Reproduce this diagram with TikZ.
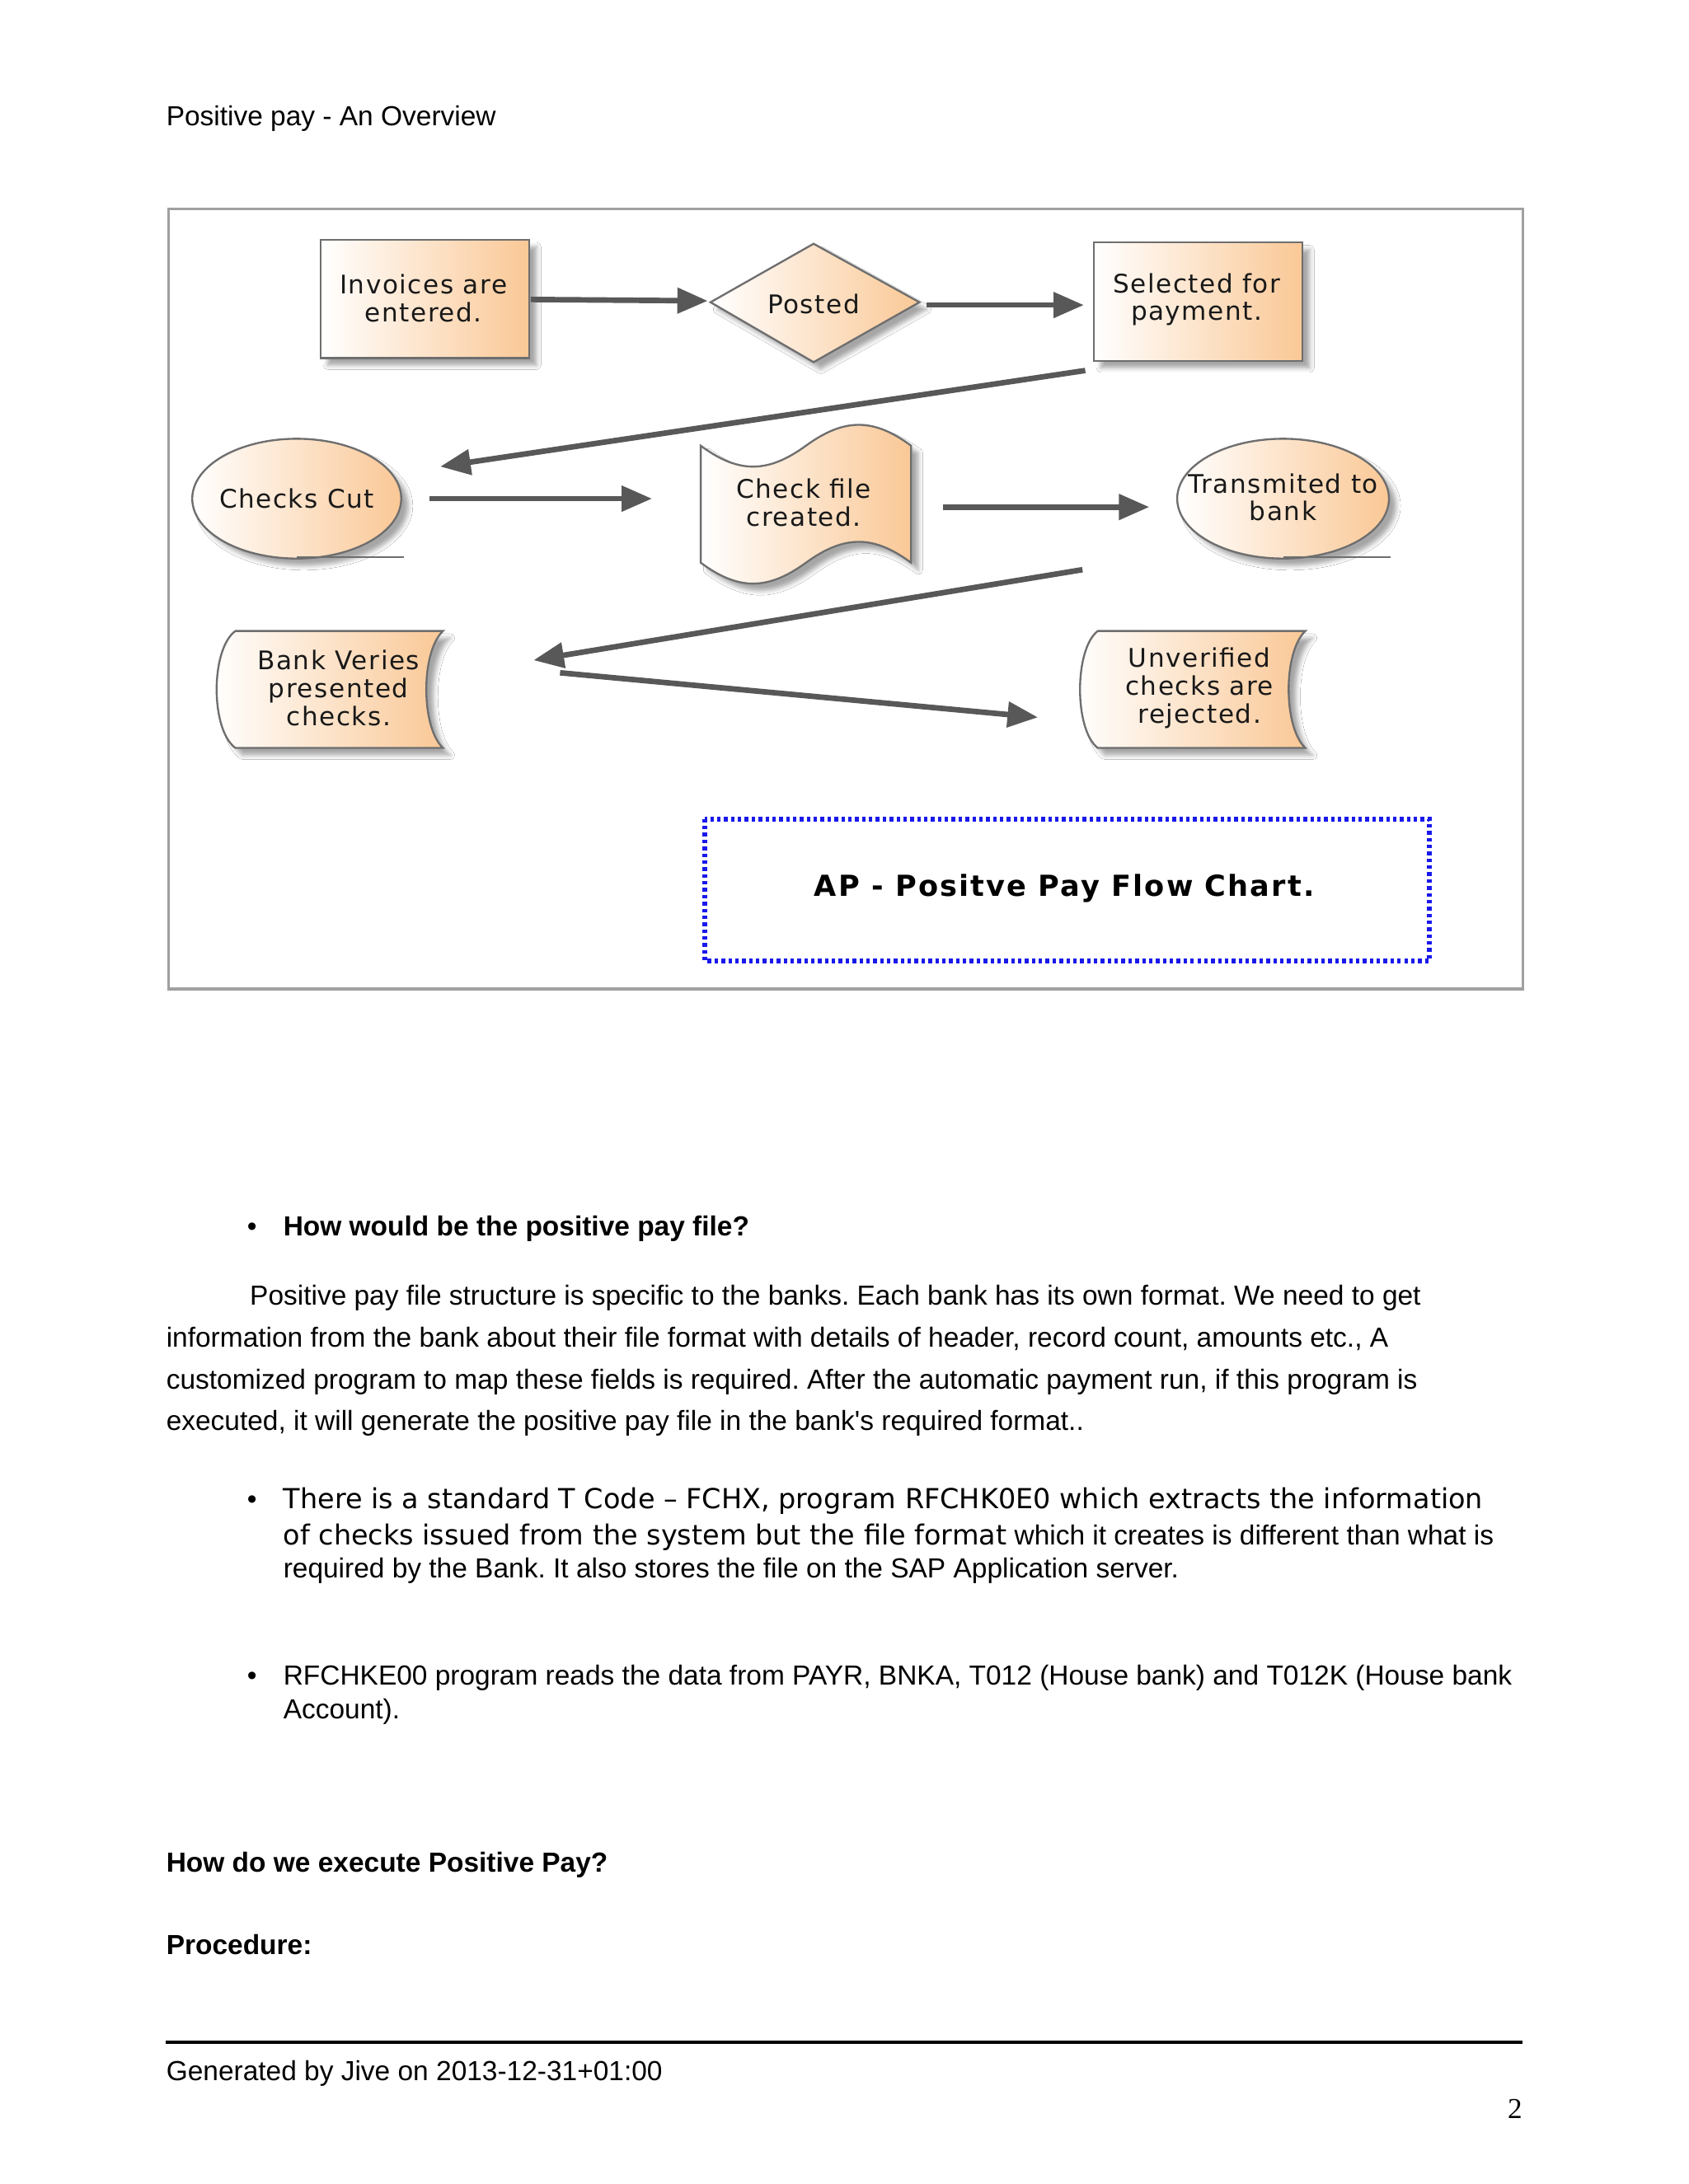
\documentclass[tikz,border=0pt]{standalone}
\usepackage{fontspec}
\setmainfont{Liberation Sans}
\newfontfamily\noligsans[Ligatures=ResetAll]{Liberation Sans}
\newfontfamily\dvfont{DejaVu Sans}
\newfontfamily\dvwide[LetterSpace=5]{DejaVu Sans}
\newfontfamily\dvtitle[LetterSpace=6]{DejaVu Sans}
\newfontfamily\pgserif{Liberation Serif}
\usetikzlibrary{arrows.meta,shadows.blur}
\frenchspacing
\definecolor{shapeor}{RGB}{250,200,150}
\definecolor{edgegray}{RGB}{110,110,110}
\definecolor{arrowgray}{RGB}{88,88,88}
\definecolor{framegray}{RGB}{160,160,160}
\definecolor{dotblue}{RGB}{25,25,235}
\tikzset{
  shapebox/.style={draw=edgegray, line width=0.7pt, left color=white, right color=shapeor,
    blur shadow={shadow xshift=2.6pt, shadow yshift=-2.6pt, shadow blur radius=1.6pt, shadow opacity=35}},
  tapetail/.style={draw=edgegray, line width=0.6pt},
  flowarrow/.style={draw=arrowgray, line width=2pt, -{Triangle[length=11pt,width=9pt]}},
  chartlabel/.style={font=\dvwide\fontsize{9.3}{10.1}\selectfont, text=black!90, align=center, inner sep=0pt},
  bodyline/.style={anchor=base west, inner sep=0pt, font=\fontsize{10}{12}\selectfont},
  boldline/.style={anchor=base west, inner sep=0pt, font=\bfseries\fontsize{10}{12}\selectfont},
  dvline/.style={anchor=base west, inner sep=0pt, font=\dvfont\fontsize{10}{12}\selectfont},
}
\begin{document}
\begin{tikzpicture}[x=0.505pt, y=-0.505pt]
\useasboundingbox (0,0) rectangle (1212,1568);
\fill[white] (0,0) rectangle (1212,1568);

% header
\node[bodyline] (hdr) at (119,90) {Positive pay - An Overview};

% chart frame
\draw[framegray, line width=1pt, fill=white] (121,150) rectangle (1093,710);

% shapes
\path[shapebox] (230,172) rectangle (380,257);
\path[shapebox] (510,217) -- (584,175) -- (660,217) -- (584,260) -- cycle;
\path[shapebox] (785,174) rectangle (935,259);
\path[shapebox] (213,358) ellipse [x radius=75, y radius=43];
\draw[tapetail] (213,400) -- (290,400);
\path[shapebox] (503,320) .. controls (530,340) and (551,340) .. (578.5,320)
  .. controls (606,300) and (627,300) .. (654,320) -- (654,404)
  .. controls (627,384) and (606,384) .. (578.5,404)
  .. controls (551,424) and (530,424) .. (503,404) -- cycle;
\path[shapebox] (921,358) ellipse [x radius=76, y radius=43];
\draw[tapetail] (921,400) -- (998,400);
\path[shapebox] (169,453) -- (318,453) .. controls (302,468) and (302,522) .. (318,537)
  -- (169,537) .. controls (151,524) and (151,466) .. (169,453) -- cycle;
\path[shapebox] (788,453) -- (937,453) .. controls (921,468) and (921,522) .. (937,537)
  -- (788,537) .. controls (771,524) and (771,466) .. (788,453) -- cycle;

% labels
\node[chartlabel] (inv) at (304,214) {Invoices are\\entered.};
\node[chartlabel] (post) at (584,218) {Posted};
\node[chartlabel] (sel) at (859,215) {Selected for\\payment.};
\node[chartlabel] (cut) at (213,358) {Checks Cut};
\node[chartlabel] (cfile) at (577,361) {Check file\\created.};
\node[chartlabel] (trans) at (921,357) {Transmited to\\bank};
\node[chartlabel] (verify) at (243,494) {Bank Veries\\presented\\checks.};
\node[chartlabel] (reject) at (861,494) {Unverified\\checks are\\rejected.};

% connector end points
\coordinate (a1s) at (381,215); \coordinate (a1e) at (508,216);
\coordinate (a2s) at (665,219); \coordinate (a2e) at (778,219);
\coordinate (a3s) at (779,266); \coordinate (a3e) at (316,335);
\coordinate (a4s) at (308,358); \coordinate (a4e) at (468,358);
\coordinate (a5s) at (677,364); \coordinate (a5e) at (825,364);
\coordinate (a6s) at (777,409); \coordinate (a6e) at (383,474);
\coordinate (a7s) at (402,483); \coordinate (a7e) at (745,515);
\draw[flowarrow] (a1s) -- (a1e);
\draw[flowarrow] (a2s) -- (a2e);
\draw[flowarrow] (a3s) -- (a3e);
\draw[flowarrow] (a4s) -- (a4e);
\draw[flowarrow] (a5s) -- (a5e);
\draw[flowarrow] (a6s) -- (a6e);
\draw[flowarrow] (a7s) -- (a7e);

% title box
\draw[dotblue, line width=1.8pt, dash pattern=on 1.3pt off 1.2pt] (506,588) rectangle (1026,690);
\node[font=\dvtitle\bfseries\fontsize{10.5}{12}\selectfont, inner sep=0pt] (title) at (764,638) {AP - Positve Pay Flow Chart.};

% body text
\node[bodyline] (b1dot) at (177,887) {•};
\node[boldline] (q1) at (203,887) {How would be the positive pay file?};
\node[bodyline] (p1) at (179,937) {Positive pay file structure is specific to the banks. Each bank has its own format. We need to get};
\node[bodyline] (p2) at (119,967) {information from the bank about their file format with details of header, record count, amounts etc., A};
\node[bodyline] (p3) at (119,997) {customized program to map these fields is required. After the automatic payment run, if this program is};
\node[bodyline] (p4) at (119,1027) {executed, it will generate the positive pay file in the bank{\noligsans '}s required format..};

\node[bodyline] (b2dot) at (177,1083) {•};
\node[dvline] (t1) at (203,1083) {There is a standard T Code – FCHX, program RFCHK0E0 which extracts the information};
\node[bodyline] (t2) at (203,1109) {{\dvfont\fontsize{10}{12}\selectfont of checks issued from the system but the file format} which it creates is different than what is};
\node[bodyline] (t3) at (203,1133) {required by the Bank. It also stores the file on the SAP Application server.};

\node[bodyline] (b3dot) at (177,1210) {•};
\node[bodyline] (r1) at (203,1210) {RFCHKE00 program reads the data from PAYR, BNKA, T012 (House bank) and T012K (House bank};
\node[bodyline] (r2) at (203,1234) {Account).};

\node[boldline] (q2) at (119,1344) {How do we execute Positive Pay?};
\node[boldline] (q3) at (119,1403) {Procedure:};

% footer
\coordinate (ruleL) at (119,1466); \coordinate (ruleR) at (1093,1466);
\draw[black, line width=1.2pt] (ruleL) -- (ruleR);
\node[bodyline] (gen) at (119,1494) {Generated by Jive on 2013-12-31+01:00};
\node[anchor=base east, inner sep=0pt, font=\pgserif\fontsize{10.5}{12}\selectfont] (pg) at (1093,1521) {2};
\end{tikzpicture}
\end{document}
